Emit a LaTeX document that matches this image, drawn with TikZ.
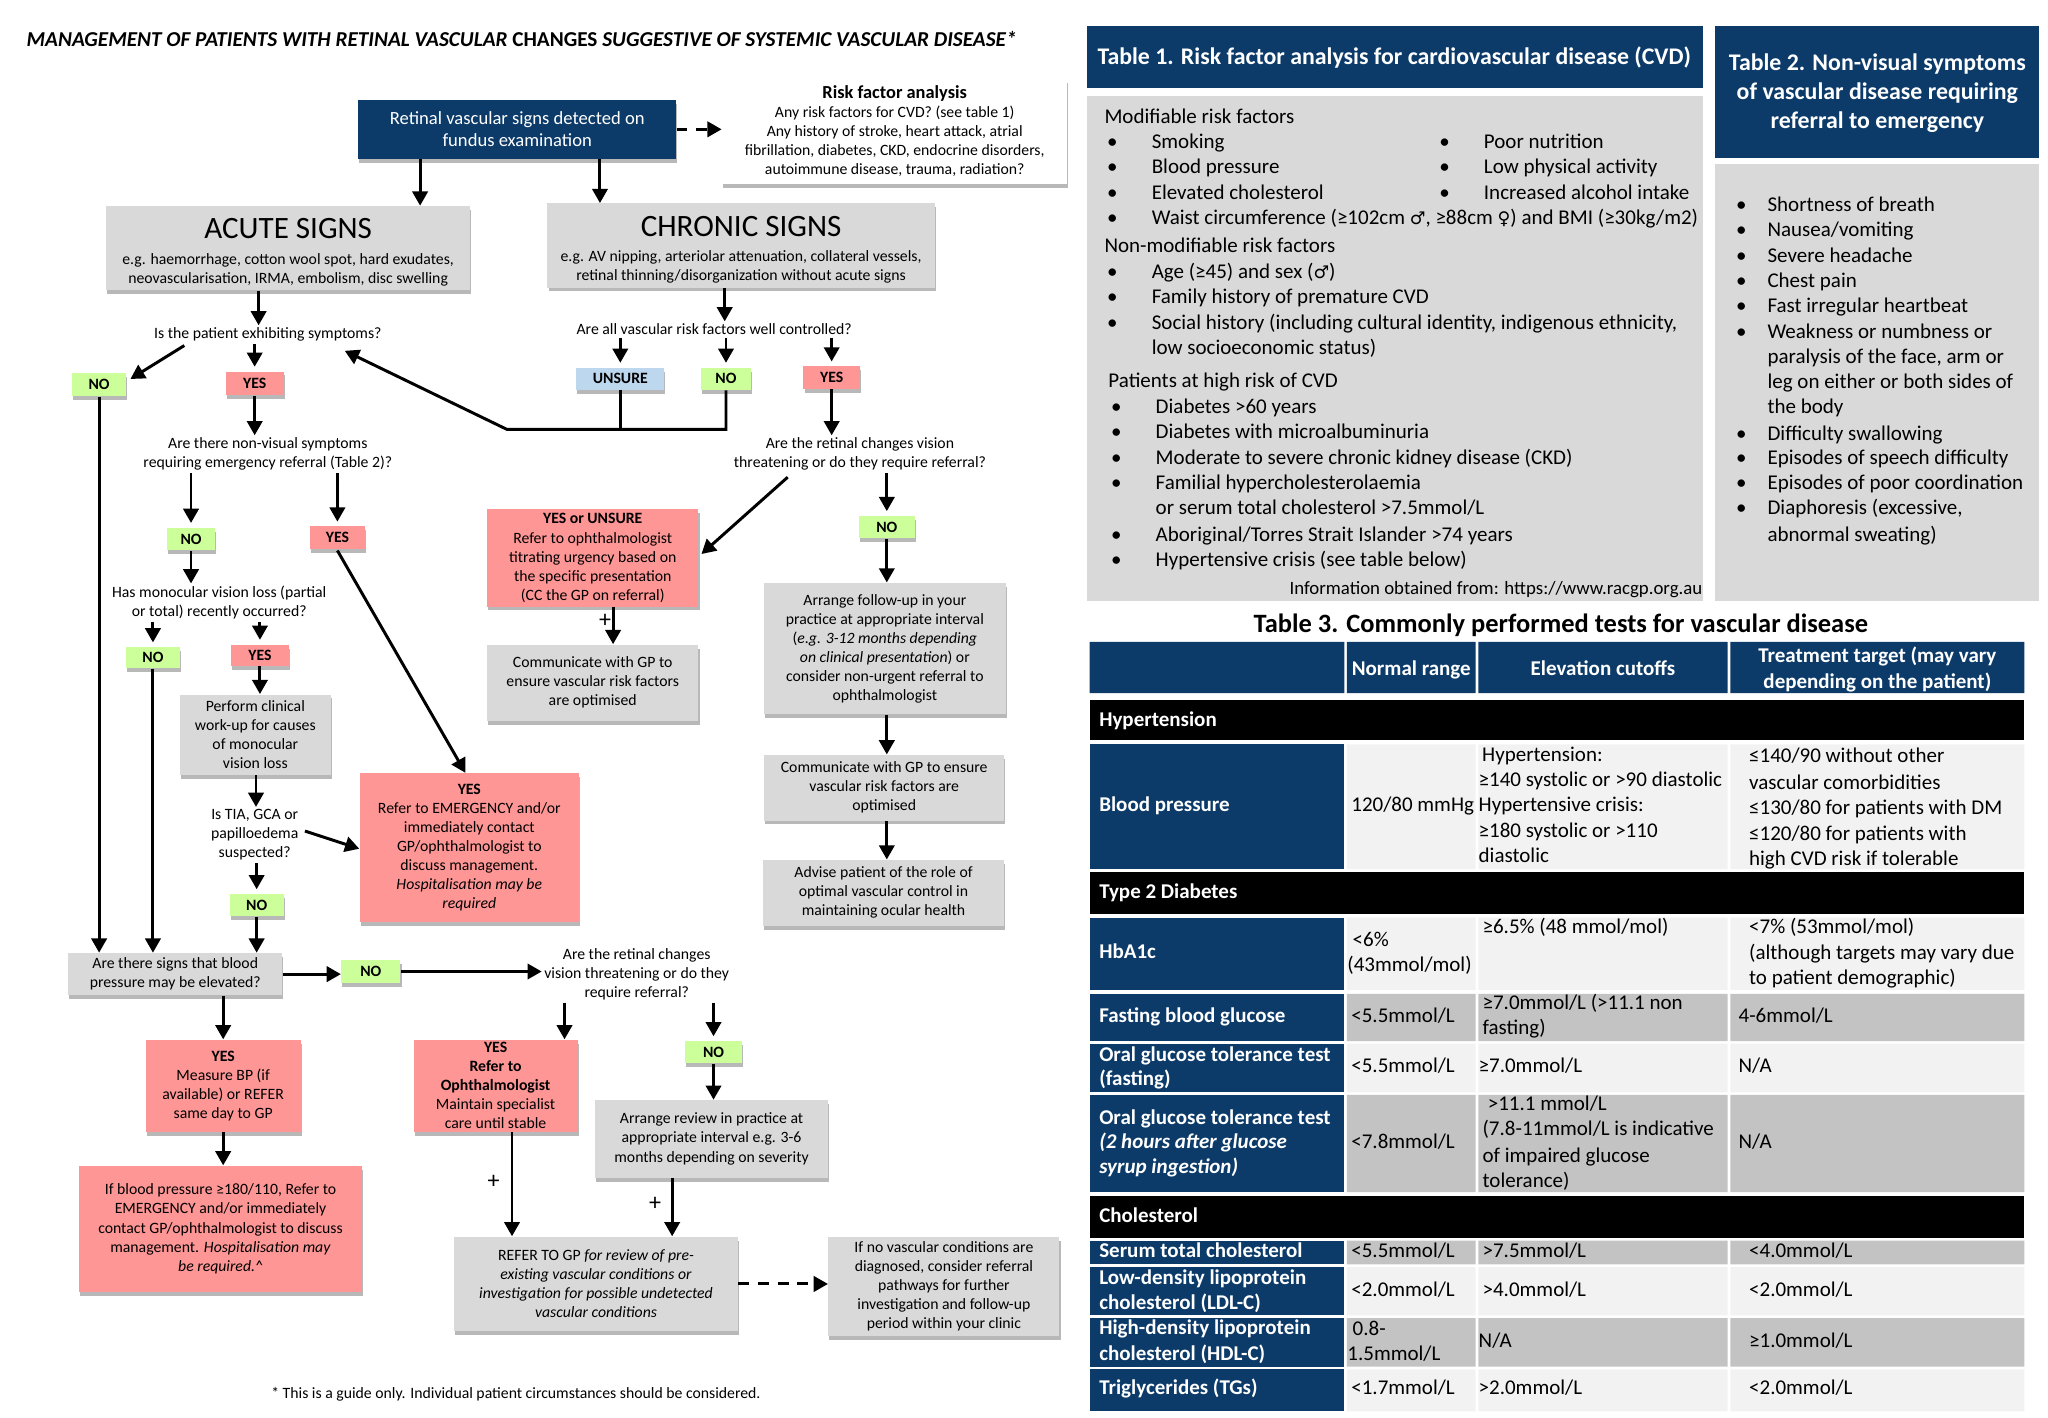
\documentclass[tikz,border=0pt]{standalone}
\usepackage{fontspec}
\setmainfont{Carlito}
\newfontfamily\symf{DejaVu Sans}
\usetikzlibrary{arrows.meta,shadows,calc}
\definecolor{navy}{HTML}{0C3B69}
\definecolor{boxgray}{HTML}{D9D9D9}
\definecolor{pinkr}{HTML}{FF9696}
\definecolor{lgreen}{HTML}{CCFF99}
\definecolor{lblue}{HTML}{BDD7EE}
\definecolor{rowlight}{HTML}{F2F2F2}
\definecolor{rowdark}{HTML}{C3C3C3}
\newcommand\fs{\fontsize{7.2}{8.7}\selectfont}
\newcommand\tfs{\fontsize{9.6}{11.6}\selectfont}
\newcommand\bx[7]{\node[#6, minimum width={(#4-#2)*0.6pt}, minimum height={(#5-#3)*0.6pt}] (#1) at ({(#2+#4)/2},{(#3+#5)/2}) {#7};}
\newcommand\trow[3]{\fill[navy] (830,#1) rectangle (1024,#2); \fill[#3] (1026,#1) rectangle (1124,#2) (1126,#1) rectangle (1316,#2) (1318,#1) rectangle (1542,#2);}
\tikzset{
 shad/.style={drop shadow={shadow xshift=0.5pt,shadow yshift=-1.8pt,opacity=0.28,fill=black}},
 base/.style={rectangle,inner sep=1pt,align=center,font=\fs},
 gbox/.style={base,fill=boxgray,shad},
 rbox/.style={base,fill=pinkr,shad},
 tag/.style={base,font=\fs\bfseries,shad},
 gtag/.style={tag,fill=lgreen},
 rtag/.style={tag,fill=pinkr},
 btag/.style={tag,fill=lblue},
 q/.style={align=center,inner sep=1pt,font=\fs},
 arr/.style={line width=1.35pt,-{Triangle[width=7pt,length=6.5pt]}},
 darr/.style={arr,dash pattern=on 5pt off 4pt},
 ln/.style={line width=1.35pt},
 tb/.style={anchor=west,inner sep=0pt,font=\tfs,text height=7pt,text depth=2pt},
 tw/.style={tb,text=white,font=\tfs\bfseries},
}
\begin{document}
\begin{tikzpicture}[x=0.6pt,y=-0.6pt]
\useasboundingbox (0,0) rectangle (1560,1080);

% ---------------- title ----------------
\node[anchor=west,inner sep=0pt,font=\fontsize{9.7}{11}\selectfont\bfseries] (title) at (20,30)
 {\textit{MANAGEMENT OF PATIENTS WITH RETINAL VASCULAR} CHANGES \textit{SUGGESTIVE OF SYSTEMIC VASCULAR DISEASE*}};

% ---------------- flowchart nodes ----------------
\bx{fund}{273}{76}{515}{121}{base,fill=navy,text=white,font=\fontsize{8.5}{10.2}\selectfont,shad}{Retinal vascular signs detected on\\fundus examination}
\bx{risk}{550}{60}{813}{140}{base,fill=white,shad}{{\bfseries\fontsize{8.4}{9}\selectfont Risk factor analysis}\\Any risk factors for CVD? (see table 1)\\Any history of stroke, heart attack, atrial\\fibrillation, diabetes, CKD, endocrine disorders,\\autoimmune disease, trauma, radiation?}
\bx{acute}{81}{157}{358}{221}{gbox}{{\fontsize{14.2}{15}\selectfont\rule{0pt}{13pt}ACUTE SIGNS}\\[3pt]e.g. haemorrhage, cotton wool spot, hard exudates,\\neovascularisation, IRMA, embolism, disc swelling}
\bx{chronic}{417}{155}{712}{219}{gbox}{{\fontsize{14.2}{15}\selectfont\rule{0pt}{13pt}CHRONIC SIGNS}\\[3pt]e.g. AV nipping, arteriolar attenuation, collateral vessels,\\retinal thinning/disorganization without acute signs}

\node[q] (q1) at (204,255) {Is the patient exhibiting symptoms?};
\bx{no1}{55}{284}{96}{302}{gtag}{NO}
\bx{yes1}{172}{283}{216}{301}{rtag}{YES}
\node[q] (q2) at (204,346) {Are there non-visual symptoms\\requiring emergency referral (Table 2)?};

\node[q] (q3) at (544,251) {Are all vascular risk factors well controlled?};
\bx{unsure}{439}{280}{506}{297}{btag}{UNSURE}
\bx{noc}{534}{280}{572}{297}{gtag}{NO}
\bx{yesc}{612}{279}{655}{296}{rtag}{YES}
\node[q] (q4) at (655,346) {Are the retinal changes vision\\threatening or do they require referral?};

\bx{yu}{371}{388}{532}{462}{rbox}{\textbf{YES or UNSURE}\\Refer to ophthalmologist\\titrating urgency based on\\the specific presentation\\(CC the GP on referral)}
\bx{comm1}{371}{491}{532}{549}{gbox}{Communicate with GP to\\ensure vascular risk factors\\are optimised}
\bx{noq4}{654}{393}{697}{410}{gtag}{NO}
\bx{arrfu}{582}{444}{766}{544}{gbox}{Arrange follow-up in your\\practice at appropriate interval\\(\textit{e.g. 3-12 months depending}\\\textit{on clinical presentation}) or\\consider non-urgent referral to\\ophthalmologist}
\bx{comm2}{582}{575}{765}{625}{gbox}{Communicate with GP to ensure\\vascular risk factors are\\optimised}
\bx{advise}{581}{655}{765}{705}{gbox}{Advise patient of the role of\\optimal vascular control in\\maintaining ocular health}

\bx{no2}{127}{402}{164}{419}{gtag}{NO}
\bx{yes2}{236}{401}{278}{418}{rtag}{YES}
\node[q] (q5) at (167,459) {Has monocular vision loss (partial\\or total) recently occurred?};
\bx{no3}{96}{493}{137}{509}{gtag}{NO}
\bx{yes3}{176}{491}{220}{507}{rtag}{YES}
\bx{perf}{137}{529}{252}{590}{gbox}{Perform clinical\\work-up for causes\\of monocular\\vision loss}
\node[q] (q6) at (194,636) {Is TIA, GCA or\\papilloedema\\suspected?};
\bx{no4}{175}{681}{216}{698}{gtag}{NO}
\bx{emerg}{274}{589}{441}{702}{rbox}{\textbf{YES}\\Refer to EMERGENCY and/or\\immediately contact\\GP/ophthalmologist to\\discuss management.\\\textit{Hospitalisation may be}\\\textit{required}}

\bx{q7}{52}{726}{215}{758}{gbox}{Are there signs that blood\\pressure may be elevated?}
\bx{no5}{260}{731}{305}{749}{gtag}{NO}
\node[q] (q8) at (485,742) {Are the retinal changes\\vision threatening or do they\\require referral?};
\bx{ymeas}{111}{792}{229}{862}{rbox}{\textbf{YES}\\Measure BP (if\\available) or REFER\\same day to GP}
\bx{ifbp}{60}{888}{276}{984}{rbox}{If blood pressure ≥180/110, Refer to\\EMERGENCY and/or immediately\\contact GP/ophthalmologist to discuss\\management. \textit{Hospitalisation may}\\\textit{be required.\textasciicircum}}
\bx{yref}{315}{792}{440}{862}{rbox}{\textbf{YES}\\\textbf{Refer to}\\\textbf{Ophthalmologist}\\Maintain specialist\\care until stable}
\bx{no6}{522}{793}{565}{810}{gtag}{NO}
\bx{arrrev}{453}{838}{631}{897}{gbox}{Arrange review in practice at\\appropriate interval e.g. 3-6\\months depending on severity}
\bx{refer}{346}{942}{562}{1014}{gbox}{REFER TO GP \textit{for review of pre-}\\\textit{existing vascular conditions or}\\\textit{investigation for possible undetected}\\\textit{vascular conditions}}
\bx{ifno}{631}{942}{807}{1018}{gbox}{If no vascular conditions are\\diagnosed, consider referral\\pathways for further\\investigation and follow-up\\period within your clinic}
\node[q] (foot) at (393,1062) {* This is a guide only. Individual patient circumstances should be considered.};

\node[q,font=\fontsize{11}{11}\selectfont] (plus1) at (461,473) {+};
\node[q,font=\fontsize{11}{11}\selectfont] (plus2) at (376,900) {+};
\node[q,font=\fontsize{11}{11}\selectfont] (plus3) at (499,917) {+};

% ---------------- connectors ----------------
\coordinate (cA) at (320,0);
\coordinate (cB) at (457,0);
\coordinate (cC) at (197,0);
\coordinate (cD) at (195,0);
\coordinate (cK) at (170,0);
\coordinate (cL) at (430,0);
\coordinate (cN) at (390,0);
\coordinate (cO) at (512,0);
\coordinate (cP) at (552,0);
\coordinate (cU) at (467,0);
\coordinate (fb) at (386,327);

\draw[arr] (fund.south -| cA) -- (acute.north -| cA);
\draw[arr] (fund.south -| cB) -- (chronic.north -| cB);
\draw[darr] (fund.east) -- (fund.east -| risk.west);
\draw[arr] (acute.south -| cC) -- (q1.north -| cC);
\draw[arr] ($(q1.south west)+(25,1)$) -- ($(no1.north east)+(3,5)$);
\draw[arr,shorten >=2pt] (q1.south -| yes1) -- (yes1.north);
\draw[arr] (yes1.south) -- (q2.north -| yes1);
\draw[arr,shorten >=2pt] (q2.south -| no2) -- (no2.north);
\draw[arr,shorten >=2pt] (q2.south -| yes2) -- (yes2.north);
\draw[arr] (no2.south) -- (q5.north -| no2);
\draw[arr,shorten >=2pt] (q5.south -| no3) -- (no3.north);
\draw[arr,shorten >=2pt] (q5.south -| yes3) -- (yes3.north);
\draw[arr] (yes3.south) -- (perf.north -| yes3);
\draw[arr] (perf.south -| cD) -- (q6.north -| cD);
\draw[arr] ($(q6.east)+(3,-3)$) -- ($(emerg.west)+(0,1)$);
\draw[arr,shorten >=2pt] (q6.south -| no4) -- (no4.north);
\draw[arr] (no4.south) -- (q7.north -| no4);
\draw[arr] (no1.south) -- (q7.north -| no1);
\draw[arr] (no3.south) -- (q7.north -| no3);
\draw[arr] ($(yes2.south)+(0,1)$) -- ($(emerg.north)+(-3,0)$);
\draw[arr] (q7.east) -- (q7.east -| no5.west);
\draw[arr] (no5.east) -- (no5.east -| q8.west);
\draw[arr] (q7.south -| cK) -- (ymeas.north -| cK);
\draw[arr] (ymeas.south -| cK) -- (ifbp.north -| cK);
\draw[arr] (q8.south -| cL) -- (yref.north -| cL);
\draw[arr,shorten >=2pt] (q8.south -| no6) -- (no6.north);
\draw[arr] (no6.south) -- (arrrev.north -| no6);
\draw[arr] (yref.south -| cN) -- (refer.north -| cN);
\draw[arr] (arrrev.south -| cO) -- (refer.north -| cO);
\draw[darr] (refer.east) -- (refer.east -| ifno.west);

\draw[arr] (chronic.south -| cP) -- (q3.north -| cP);
\draw[arr,shorten >=2pt] (q3.south -| unsure) -- (unsure.north);
\draw[arr,shorten >=2pt] (q3.south -| noc) -- (noc.north);
\draw[arr,shorten >=2pt] (q3.south -| yesc) -- (yesc.north);
\draw[ln] (unsure.south) -- (unsure.south |- fb);
\draw[arr] (noc.south) |- (fb) -- ($(q1.south east)+(-30,5)$);
\draw[arr] (yesc.south) -- (q4.north -| yesc);
\draw[arr] ($(q4.south west)+(43,3)$) -- ($(yu.east)+(2,-3)$);
\draw[arr,shorten >=2pt] (q4.south -| noq4) -- (noq4.north);
\draw[arr] (noq4.south) -- (arrfu.north -| noq4);
\draw[arr] (yu.south -| cU) -- (comm1.north -| cU);
\draw[arr] (arrfu.south -| noq4) -- (comm2.north -| noq4);
\draw[arr] (comm2.south -| noq4) -- (advise.north -| noq4);

% ---------------- Table 1 ----------------
\fill[navy] (828,20) rectangle (1297,67);
\node[inner sep=0pt,text=white,font=\fontsize{10.9}{12}\selectfont\bfseries] (t1h) at (1062,44) {Table 1. Risk factor analysis for cardiovascular disease (CVD)};
\fill[boxgray] (828,73) rectangle (1297,458);
\node[tb] (t1a) at (841,90) {Modifiable risk factors};
\foreach \y/\t [count=\i] in {109/Smoking,128/Blood pressure,148/Elevated cholesterol,167/{Waist circumference (≥102cm {\symf\fontsize{8}{10}\selectfont ♂}, ≥88cm {\symf\fontsize{8}{10}\selectfont ♀}) and BMI (≥30kg/m2)},208/{Age (≥45) and sex ({\symf\fontsize{8}{10}\selectfont ♂})},227/Family history of premature CVD,247/{Social history (including cultural identity, indigenous ethnicity,}} {
  \node[tb] (t1b\i) at (843,\y) {•};
  \node[tb] (t1c\i) at (877,\y) {\t};
}
\node[tb] (t1d) at (877,266) {low socioeconomic status)};
\foreach \y/\t [count=\i] in {109/Poor nutrition,128/Low physical activity,148/Increased alcohol intake} {
  \node[tb] (t1e\i) at (1096,\y) {•};
  \node[tb] (t1f\i) at (1130,\y) {\t};
}
\node[tb] (t1g) at (841,188) {Non-modifiable risk factors};
\node[tb] (t1h2) at (844,291) {Patients at high risk of CVD};
\foreach \y/\t [count=\i] in {311/{Diabetes >60 years},330/{Diabetes with microalbuminuria},350/{Moderate to severe chronic kidney disease (CKD)},369/{Familial hypercholesterolaemia},408/{Aboriginal/Torres Strait Islander >74 years},427/{Hypertensive crisis (see table below)}} {
  \node[tb] (t1i\i) at (846,\y) {•};
  \node[tb] (t1j\i) at (880,\y) {\t};
}
\node[tb] (t1k) at (880,388) {or serum total cholesterol >7.5mmol/L};
\node[tb,anchor=east,font=\fontsize{8.6}{10}\selectfont] (t1src) at (1297,449) {Information obtained from: https://www.racgp.org.au};

% ---------------- Table 2 ----------------
\fill[navy] (1306,20) rectangle (1553,120);
\node[align=center,inner sep=0pt,text=white,font=\fontsize{10.9}{13.2}\selectfont\bfseries] (t2h) at (1430,71) {Table 2. Non-visual symptoms\\of vascular disease requiring\\referral to emergency};
\fill[boxgray] (1306,125) rectangle (1553,458);
\foreach \y/\t [count=\i] in {157/{Shortness of breath},176/{Nausea/vomiting},196/{Severe headache},215/{Chest pain},234/{Fast irregular heartbeat},254/{Weakness or numbness or},331/{Difficulty swallowing},350/{Episodes of speech difficulty},369/{Episodes of poor coordination},388/{Diaphoresis (excessive,}} {
  \node[tb] (t2a\i) at (1322,\y) {•};
  \node[tb] (t2b\i) at (1346,\y) {\t};
}
\foreach \y/\t [count=\i] in {273/{paralysis of the face, arm or},292/{leg on either or both sides of},311/{the body},408/{abnormal sweating)}} {
  \node[tb] (t2c\i) at (1346,\y) {\t};
}

% ---------------- Table 3 ----------------
\node[inner sep=0pt,font=\fontsize{12.1}{13}\selectfont\bfseries] (t3t) at (1189,476) {Table 3. Commonly performed tests for vascular disease};
\fill[navy] (830,489) rectangle (1024,528) (1026,489) rectangle (1124,528) (1126,489) rectangle (1316,528) (1318,489) rectangle (1542,528);
\node[tw,anchor=center] (h2) at (1075,510) {Normal range};
\node[tw,anchor=center] (h3) at (1221,510) {Elevation cutoffs};
\node[align=center,inner sep=0pt,text=white,font=\tfs\bfseries] (h4) at (1430,510) {Treatment target (may vary\\depending on the patient)};

\fill[black] (830,533) rectangle (1542,564);
\node[tw] (r0) at (837,549) {Hypertension};
\trow{567}{662}{rowlight}
\node[tw] (r1a) at (837,614) {Blood pressure};
\node[tb] (r1b) at (1029,614) {120/80 mmHg};
\foreach \y/\t [count=\i] in {576/{\,Hypertension:},595/{≥140 systolic or >90 diastolic},614/{Hypertensive crisis:},634/{≥180 systolic or >110},653/{diastolic}} {\node[tb] (r1c\i) at (1126,\y) {\t};}
\foreach \y/\t [count=\i] in {577/{≤140/90 without other},597/{vascular comorbidities},616/{≤130/80 for patients with DM},636/{≤120/80 for patients with},655/{high CVD risk if tolerable}} {\node[tb] (r1d\i) at (1332,\y) {\t};}

\fill[black] (830,664) rectangle (1542,696);
\node[tw] (r2) at (837,680) {Type 2 Diabetes};
\trow{699}{754}{rowlight}
\node[tw] (r3a) at (837,726) {HbA1c};
\node[tb] (r3b1) at (1030,717) {<6\%};
\node[tb] (r3b2) at (1026,736) {(43mmol/mol)};
\node[tb] (r3c) at (1129,707) {≥6.5\% (48 mmol/mol)};
\node[tb] (r3d1) at (1332,707) {<7\% (53mmol/mol)};
\node[tb] (r3d2) at (1332,727) {(although targets may vary due};
\node[tb] (r3d3) at (1332,746) {to patient demographic)};

\trow{757}{793}{rowdark}
\node[tw] (r4a) at (837,775) {Fasting blood glucose};
\node[tb] (r4b) at (1029,775) {<5.5mmol/L};
\node[tb] (r4c1) at (1129,765) {≥7.0mmol/L (>11.1 non};
\node[tb] (r4c2) at (1129,784) {fasting)};
\node[tb] (r4d) at (1324,775) {4-6mmol/L};

\trow{795}{832}{rowlight}
\node[tw] (r5a1) at (837,804) {Oral glucose tolerance test};
\node[tw] (r5a2) at (837,823) {(fasting)};
\node[tb] (r5b) at (1029,813) {<5.5mmol/L};
\node[tb] (r5c) at (1126,813) {≥7.0mmol/L};
\node[tb] (r5d) at (1324,813) {N/A};

\trow{834}{908}{rowdark}
\node[tw] (r6a1) at (837,852) {Oral glucose tolerance test};
\node[tw,font=\tfs\bfseries\itshape] (r6a2) at (837,871) {(2 hours after glucose};
\node[tw,font=\tfs\bfseries\itshape] (r6a3) at (837,890) {syrup ingestion)};
\node[tb] (r6b) at (1029,871) {<7.8mmol/L};
\node[tb] (r6c1) at (1133,842) {>11.1 mmol/L};
\node[tb] (r6c2) at (1129,861) {(7.8-11mmol/L is indicative};
\node[tb] (r6c3) at (1129,881) {of impaired glucose};
\node[tb] (r6c4) at (1129,900) {tolerance)};
\node[tb] (r6d) at (1324,871) {N/A};

\fill[black] (830,911) rectangle (1542,943);
\node[tw] (r7) at (837,927) {Cholesterol};
\trow{945}{963}{rowdark}
\node[tw] (r8a) at (837,954) {Serum total cholesterol};
\node[tb] (r8b) at (1029,954) {<5.5mmol/L};
\node[tb] (r8c) at (1129,954) {>7.5mmol/L};
\node[tb] (r8d) at (1332,954) {<4.0mmol/L};

\trow{965}{1002}{rowlight}
\node[tw] (r9a1) at (837,974) {Low-density lipoprotein};
\node[tw] (r9a2) at (837,993) {cholesterol (LDL-C)};
\node[tb] (r9b) at (1029,983) {<2.0mmol/L};
\node[tb] (r9c) at (1129,983) {>4.0mmol/L};
\node[tb] (r9d) at (1332,983) {<2.0mmol/L};

\trow{1004}{1041}{rowdark}
\node[tw] (r10a1) at (837,1012) {High-density lipoprotein};
\node[tw] (r10a2) at (837,1032) {cholesterol (HDL-C)};
\node[tb] (r10b1) at (1030,1013) {0.8-};
\node[tb] (r10b2) at (1026,1032) {1.5mmol/L};
\node[tb] (r10c) at (1126,1022) {N/A};
\node[tb] (r10d) at (1332,1022) {≥1.0mmol/L};

\trow{1043}{1075}{rowlight}
\node[tw] (r11a) at (837,1058) {Triglycerides (TGs)};
\node[tb] (r11b) at (1029,1058) {<1.7mmol/L};
\node[tb] (r11c) at (1126,1058) {>2.0mmol/L};
\node[tb] (r11d) at (1332,1058) {<2.0mmol/L};
\end{tikzpicture}
\end{document}
